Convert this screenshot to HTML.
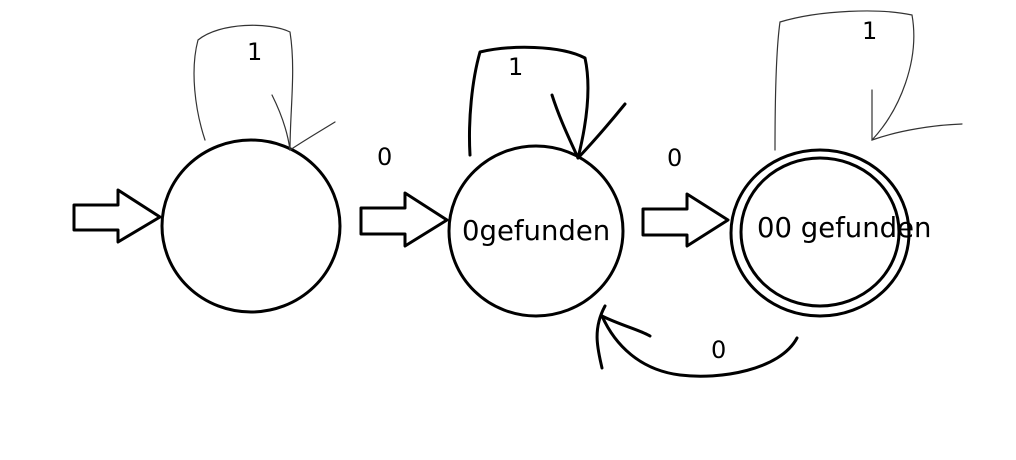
<!DOCTYPE html>
<html><head><meta charset="utf-8"><style>
html,body{margin:0;padding:0;background:#fff;}
svg{display:block;}
text{font-family:"DejaVu Sans","Liberation Sans",sans-serif;fill:#000;}
</style></head><body>
<svg width="1016" height="460" viewBox="0 0 1016 460" xmlns="http://www.w3.org/2000/svg">
<g fill="none" stroke="#000" stroke-width="3" stroke-linecap="round" stroke-linejoin="round">
<ellipse cx="251" cy="226" rx="89" ry="86"/>
<ellipse cx="536" cy="231" rx="87" ry="85"/>
<ellipse cx="820" cy="233" rx="89" ry="83"/>
<ellipse cx="820" cy="232" rx="79" ry="74"/>
<path d="M74 205 H118 V190 L160 217 L118 242 V230 H74 Z"/>
<path d="M361 208 H405 V193 L447 220 L405 246 V234 H361 Z"/>
<path d="M643 209 H687 V194 L728 220 L687 246 V235 H643 Z"/>
<path d="M470 155 C468 120 472 80 480 52 C510 45 560 45 585 58 C592 90 585 130 578 158"/>
<path d="M552 95 C560 120 570 140 578 158 C595 140 612 120 625 104"/>
<path d="M797 338 C780 370 720 380 680 375 C640 370 615 345 602 316"/>
<path d="M605 306 C592 330 598 350 602 368"/>
<path d="M602 316 C620 325 640 330 650 336"/>
</g>
<g fill="none" stroke="#333" stroke-width="1.2" stroke-linecap="round">
<path d="M205 140 C195 110 190 70 198 40 C220 22 270 22 290 32 C296 70 290 110 290 150"/>
<path d="M272 95 C282 115 288 135 290 150 C305 140 322 130 335 122"/>
<path d="M775 150 C775 100 776 50 780 22 C820 10 880 8 912 15 C920 60 900 110 872 140"/>
<path d="M872 90 V140 C900 130 935 125 962 124"/>
</g>
<g font-size="24">
<text x="377" y="165">0</text>
<text x="667" y="166">0</text>
<text x="711" y="358">0</text>
<text x="247" y="60">1</text>
<text x="508" y="75">1</text>
<text x="862" y="39">1</text>
</g>
<g font-size="27.5">
<text x="462" y="240">0gefunden</text>
<text x="757" y="237">00 gefunden</text>
</g>
</svg>
</body></html>
